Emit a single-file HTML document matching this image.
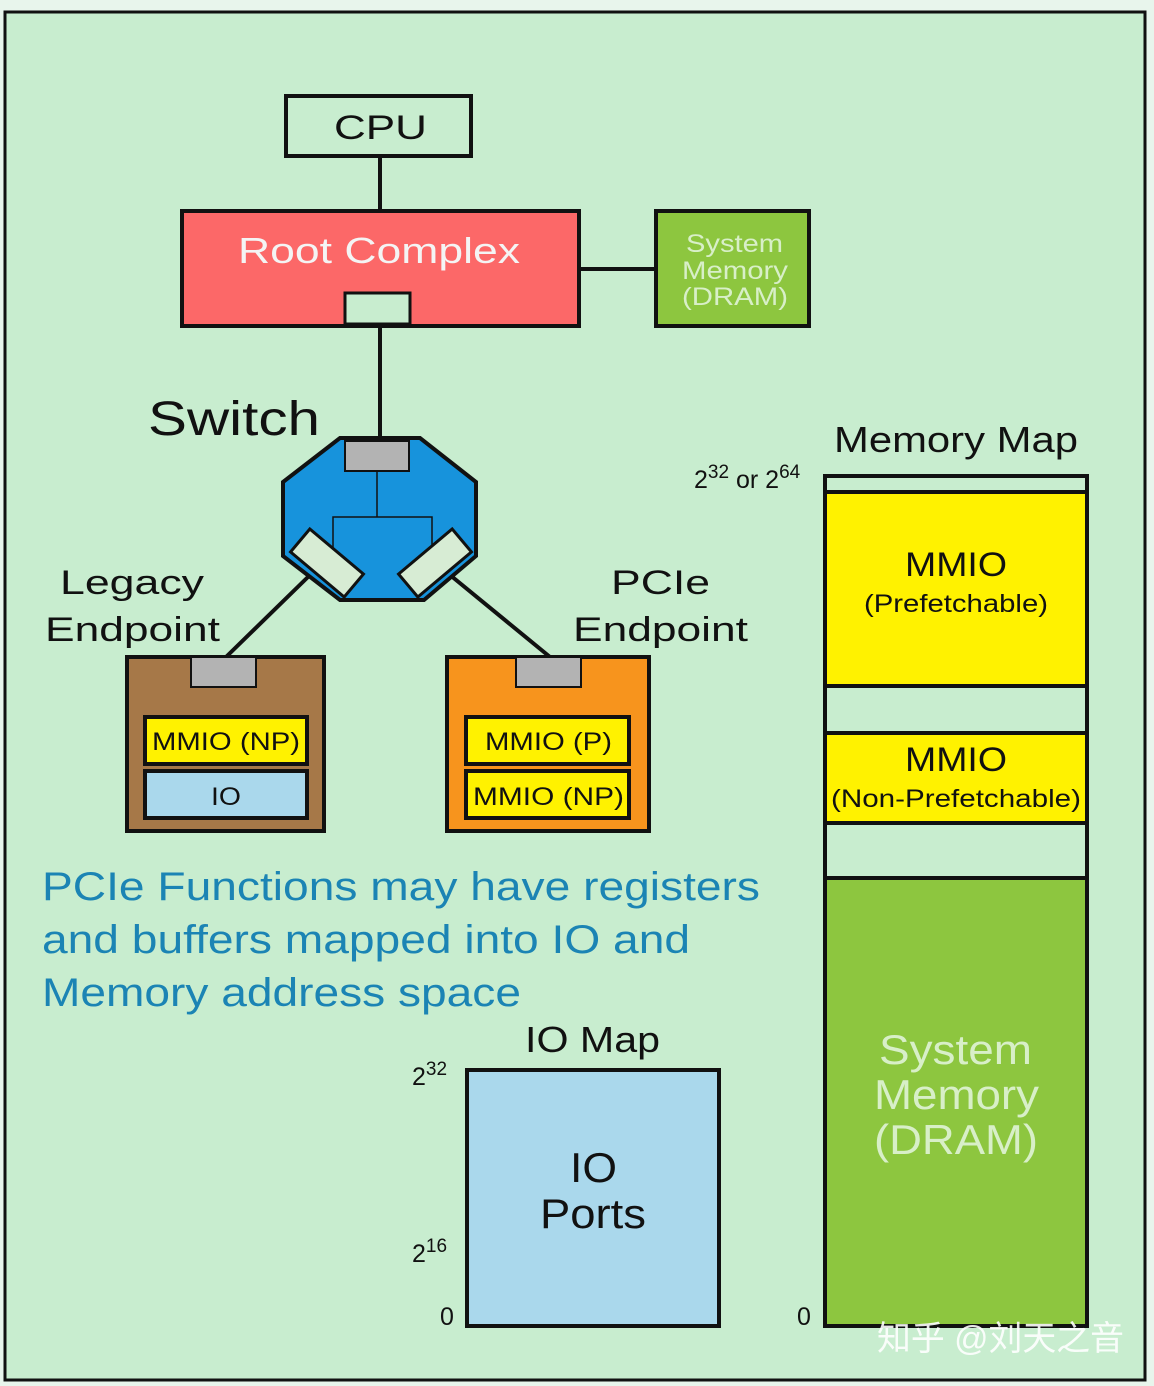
<!DOCTYPE html>
<html><head><meta charset="utf-8"><style>
html,body{margin:0;padding:0;background:#e6f4ea;}
svg{display:block;font-family:"Liberation Sans","Noto Sans CJK SC",sans-serif;}
</style></head><body>
<svg width="1154" height="1386" viewBox="0 0 1154 1386" xmlns="http://www.w3.org/2000/svg">
<rect x="0" y="0" width="1154" height="1386" fill="#e8f5ec"/>
<rect x="5" y="12" width="1140" height="1368" fill="#c8edcf" stroke="#111" stroke-width="3"/>
<g stroke="#111" stroke-width="4" fill="none">
<line x1="380" y1="156" x2="380" y2="212"/>
<line x1="579" y1="269" x2="656" y2="269"/>
<line x1="380" y1="324" x2="380" y2="440"/>
<line x1="310" y1="575" x2="226" y2="657"/>
<line x1="450" y1="575" x2="550" y2="657"/>
</g>
<rect x="286" y="96" width="185" height="60" fill="#c8edcf" stroke="#111" stroke-width="4"/>
<text x="334" y="139" font-size="34" textLength="93" lengthAdjust="spacingAndGlyphs" fill="#111">CPU</text>
<rect x="182" y="211" width="397" height="115" fill="#fc6868" stroke="#111" stroke-width="4"/>
<text x="238" y="263" font-size="36" textLength="282" lengthAdjust="spacingAndGlyphs" fill="#f4f4f4">Root Complex</text>
<rect x="345" y="293" width="65" height="31" fill="#c8edcf" stroke="#111" stroke-width="3"/>
<rect x="656" y="211" width="153" height="115" fill="#8dc63f" stroke="#111" stroke-width="4"/>
<text x="686" y="252" font-size="25" textLength="97" lengthAdjust="spacingAndGlyphs" fill="#d8efc8">System</text>
<text x="682" y="279" font-size="25" textLength="106" lengthAdjust="spacingAndGlyphs" fill="#d8efc8">Memory</text>
<text x="682" y="305" font-size="25" textLength="106" lengthAdjust="spacingAndGlyphs" fill="#d8efc8">(DRAM)</text>
<text x="148" y="435" font-size="48" textLength="172" lengthAdjust="spacingAndGlyphs" fill="#111">Switch</text>
<polygon points="340,438 420,438 476,482 476,556 424,600 340,600 283,556 283,482" fill="#1793dc" stroke="#111" stroke-width="4"/>
<rect x="345" y="441" width="64" height="30" fill="#b3b3b3" stroke="#111" stroke-width="2"/>
<g stroke="#111" stroke-width="1.5" fill="none">
<line x1="377" y1="471" x2="377" y2="517"/>
<polyline points="333,560 333,517 432,517 432,560"/>
</g>
<rect x="292" y="548" width="70" height="30" fill="#d7ecd4" stroke="#111" stroke-width="3" transform="rotate(40 327 563)"/>
<rect x="400" y="548" width="70" height="30" fill="#d7ecd4" stroke="#111" stroke-width="3" transform="rotate(-40 435 563)"/>
<text x="60" y="594" font-size="34" textLength="144" lengthAdjust="spacingAndGlyphs" fill="#111">Legacy</text>
<text x="45" y="641" font-size="34" textLength="175" lengthAdjust="spacingAndGlyphs" fill="#111">Endpoint</text>
<text x="611" y="594" font-size="34" textLength="99" lengthAdjust="spacingAndGlyphs" fill="#111">PCIe</text>
<text x="573" y="641" font-size="34" textLength="175" lengthAdjust="spacingAndGlyphs" fill="#111">Endpoint</text>
<rect x="127" y="657" width="197" height="174" fill="#a67848" stroke="#111" stroke-width="4"/>
<rect x="191" y="657" width="65" height="30" fill="#b3b3b3" stroke="#111" stroke-width="2"/>
<rect x="145" y="717" width="162" height="47" fill="#fff200" stroke="#111" stroke-width="4"/>
<text x="152" y="750" font-size="25" textLength="148" lengthAdjust="spacingAndGlyphs" fill="#111">MMIO (NP)</text>
<rect x="145" y="771" width="162" height="47" fill="#aad8ec" stroke="#111" stroke-width="4"/>
<text x="211" y="805" font-size="25" textLength="30" lengthAdjust="spacingAndGlyphs" fill="#111">IO</text>
<rect x="447" y="657" width="202" height="174" fill="#f7941d" stroke="#111" stroke-width="4"/>
<rect x="516" y="657" width="65" height="30" fill="#b3b3b3" stroke="#111" stroke-width="2"/>
<rect x="466" y="717" width="163" height="47" fill="#fff200" stroke="#111" stroke-width="4"/>
<text x="485" y="750" font-size="25" textLength="127" lengthAdjust="spacingAndGlyphs" fill="#111">MMIO (P)</text>
<rect x="466" y="771" width="163" height="47" fill="#fff200" stroke="#111" stroke-width="4"/>
<text x="473" y="805" font-size="25" textLength="151" lengthAdjust="spacingAndGlyphs" fill="#111">MMIO (NP)</text>
<text x="42" y="900" font-size="40" textLength="718" lengthAdjust="spacingAndGlyphs" fill="#1b84b4">PCIe Functions may have registers</text>
<text x="42" y="953" font-size="40" textLength="648" lengthAdjust="spacingAndGlyphs" fill="#1b84b4">and buffers mapped into IO and</text>
<text x="42" y="1006" font-size="40" textLength="479" lengthAdjust="spacingAndGlyphs" fill="#1b84b4">Memory address space</text>
<text x="834" y="452" font-size="36" textLength="244" lengthAdjust="spacingAndGlyphs" fill="#111">Memory Map</text>
<text x="694" y="488" font-size="25" fill="#111">2<tspan dy="-10" font-size="19">32</tspan><tspan dy="10"> or 2</tspan><tspan dy="-10" font-size="19">64</tspan></text>
<rect x="825" y="476" width="262" height="850" fill="#c8edcf" stroke="#111" stroke-width="4"/>
<rect x="825" y="492" width="262" height="194" fill="#fff200" stroke="#111" stroke-width="4"/>
<text x="905" y="576" font-size="34" textLength="102" lengthAdjust="spacingAndGlyphs" fill="#111">MMIO</text>
<text x="864" y="612" font-size="25" textLength="184" lengthAdjust="spacingAndGlyphs" fill="#111">(Prefetchable)</text>
<rect x="825" y="733" width="262" height="90" fill="#fff200" stroke="#111" stroke-width="4"/>
<text x="905" y="771" font-size="34" textLength="102" lengthAdjust="spacingAndGlyphs" fill="#111">MMIO</text>
<text x="831" y="807" font-size="25" textLength="250" lengthAdjust="spacingAndGlyphs" fill="#111">(Non-Prefetchable)</text>
<rect x="825" y="878" width="262" height="448" fill="#8dc63f" stroke="#111" stroke-width="4"/>
<text x="879" y="1064" font-size="42" textLength="153" lengthAdjust="spacingAndGlyphs" fill="#d8efc8">System</text>
<text x="874" y="1109" font-size="42" textLength="165" lengthAdjust="spacingAndGlyphs" fill="#d8efc8">Memory</text>
<text x="874" y="1154" font-size="42" textLength="164" lengthAdjust="spacingAndGlyphs" fill="#d8efc8">(DRAM)</text>
<text x="804" y="1325" font-size="25" text-anchor="middle" fill="#111">0</text>
<text x="525" y="1052" font-size="36" textLength="135" lengthAdjust="spacingAndGlyphs" fill="#111">IO Map</text>
<rect x="467" y="1070" width="252" height="256" fill="#aad8ec" stroke="#111" stroke-width="4"/>
<text x="570" y="1182" font-size="42" textLength="47" lengthAdjust="spacingAndGlyphs" fill="#111">IO</text>
<text x="540" y="1228" font-size="42" textLength="106" lengthAdjust="spacingAndGlyphs" fill="#111">Ports</text>
<text x="412" y="1085" font-size="25" fill="#111">2<tspan dy="-10" font-size="19">32</tspan></text>
<text x="412" y="1262" font-size="25" fill="#111">2<tspan dy="-10" font-size="19">16</tspan></text>
<text x="447" y="1325" font-size="25" text-anchor="middle" fill="#111">0</text>
<text x="877" y="1350" font-size="34" textLength="247" lengthAdjust="spacingAndGlyphs" fill="#ffffff" opacity="0.9">知乎 @刘天之音</text>
</svg>
</body></html>
